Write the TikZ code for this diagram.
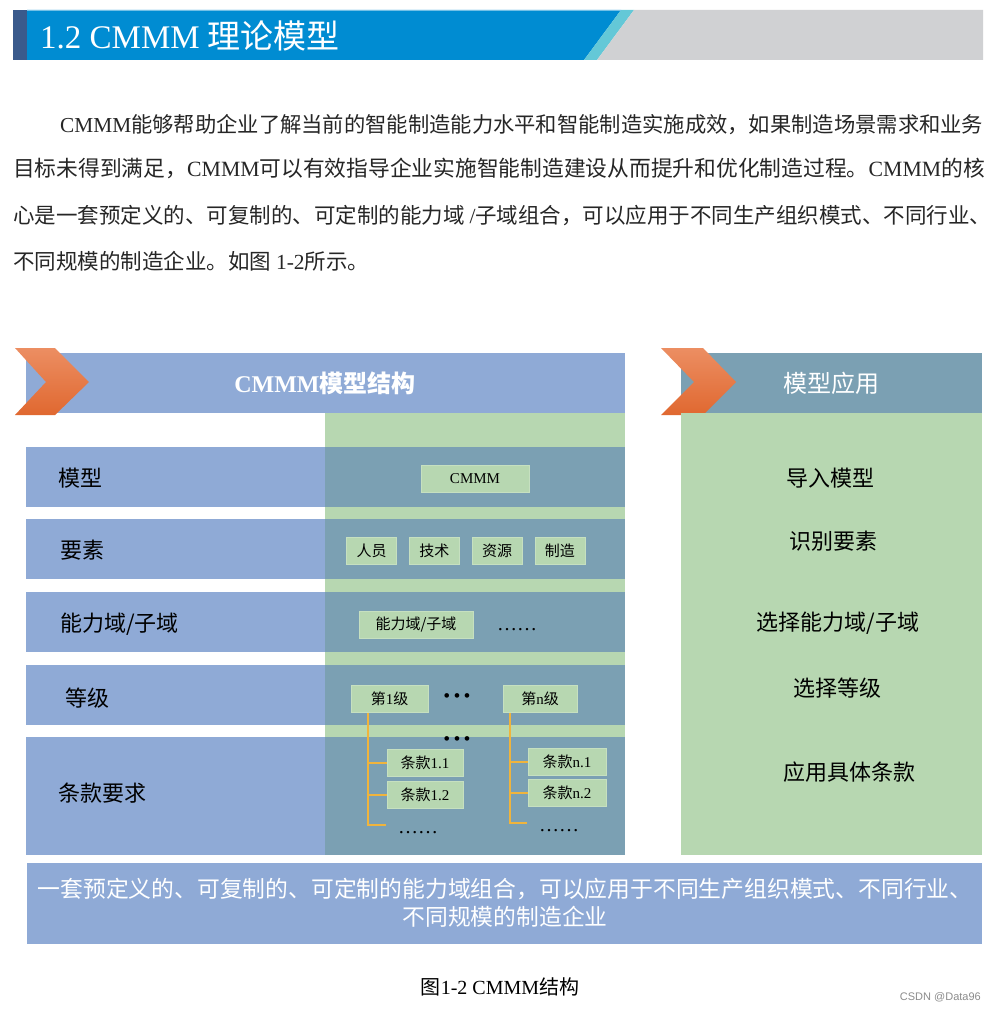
\documentclass[tikz,border=0pt]{standalone}
\usepackage{fontspec}
\setmainfont{Noto Sans CJK SC}
\newfontfamily\serifen{Liberation Serif}
\newfontfamily\wmfont{Liberation Sans}
\usetikzlibrary{positioning}
\definecolor{navy}{RGB}{58,90,140}
\definecolor{hblue}{RGB}{0,140,210}
\definecolor{hcyan}{RGB}{100,200,215}
\definecolor{hgray}{RGB}{208,209,211}
\definecolor{bandblue}{RGB}{143,170,214}
\definecolor{steel}{RGB}{123,160,179}
\definecolor{lightgreen}{RGB}{183,215,177}
\definecolor{boxedge}{RGB}{198,224,192}
\definecolor{treeline}{RGB}{240,180,60}
\definecolor{chevtop}{RGB}{236,142,98}
\definecolor{chevbot}{RGB}{224,104,48}

\begin{document}
\begin{tikzpicture}[x=1pt,y=-1pt,
  para/.style={anchor=base west,inner sep=0pt,text=black!85},
  lbl/.style={anchor=west,inner sep=0pt,font=\fontsize{22}{26}\selectfont},
  app/.style={inner sep=0pt,font=\fontsize{22}{26}\selectfont},
  item/.style={fill=lightgreen,draw=boxedge,line width=0.8pt,minimum height=27pt,
    minimum width=50pt,inner sep=0pt,font=\fontsize{15}{18}\selectfont},
  more/.style={inner sep=0pt,font=\serifen\fontsize{20}{22}\selectfont},
  bullets/.style={inner sep=0pt,font=\serifen\bfseries\fontsize{17}{20}\selectfont},
  tree/.style={draw=treeline,line width=2pt},
  head/.style={text=white,inner sep=0pt,font=\fontsize{24}{28}\selectfont}]
  \useasboundingbox[fill=white] (0,0) rectangle (995,1011);

  % title bar
  \fill[navy] (13,10) rectangle (27,60);
  \fill[hblue] (27,10) -- (621,10) -- (584,60) -- (27,60) -- cycle;
  \fill[hcyan] (621,10) -- (634,10) -- (597,60) -- (584,60) -- cycle;
  \fill[hgray] (634,10) -- (983,10) -- (983,60) -- (597,60) -- cycle;
  \draw[hblue!55!white,line width=1.2pt] (27,10.6) -- (620.5,10.6);
  \node[anchor=west,text=white,inner sep=0pt,font=\fontsize{33}{37}\selectfont] (title) at (40,36)
    {{\serifen 1.2 CMMM }理论模型};

  \node[para,font=\fontsize{21.3}{26}\selectfont] (p1) at (60,133) {{\serifen CMMM}能够帮助企业了解当前的智能制造能力水平和智能制造实施成效，如果制造场景需求和业务};
  \node[para,font=\fontsize{21.75}{26}\selectfont] (p2) at (13,177) {目标未得到满足，{\serifen CMMM}可以有效指导企业实施智能制造建设从而提升和优化制造过程。{\serifen CMMM}的核};
  \node[para,font=\fontsize{21.5}{26}\selectfont] (p3) at (13,223) {心是一套预定义的、可复制的、可定制的能力域 {\serifen /}子域组合，可以应用于不同生产组织模式、不同行业、};
  \node[para,font=\fontsize{21.5}{26}\selectfont] (p4) at (13,269) {不同规模的制造企业。如图 {\serifen 1-2}所示。};

  % model structure
  \fill[bandblue] (26,353) rectangle (625,413);
  \shade[top color=chevtop,bottom color=chevbot] (15,348) -- (55,348) -- (89,382) -- (55,415) -- (15,415) -- (46,382) -- cycle;
  \node[head,font=\fontsize{24}{28}\selectfont\bfseries] (lhead) at (325,383) {{\serifen CMMM}模型结构};

  \fill[lightgreen] (325,413) rectangle (625,855);
  \foreach \top/\bot in {447/507,519/579,592/652,665/725,737/855}{
    \fill[bandblue] (26,\top) rectangle (325,\bot);
    \fill[steel] (325,\top) rectangle (625,\bot);
  }

  \node[lbl] (lmodel) at (58,478) {模型};
  \node[lbl] (lelem) at (60,550) {要素};
  \node[lbl] (ldomain) at (60,624) {能力域/子域};
  \node[lbl] (llevel) at (65,698) {等级};
  \node[lbl] (lclause) at (58,793) {条款要求};

  \node[item,minimum width=108pt] (cmmm) at (475,478.5) {\serifen CMMM};
  \node[item] (ry) at (371.5,551) {人员};
  \node[item,right=12pt of ry] (js) {技术};
  \node[item,right=12pt of js] (zy) {资源};
  \node[item,right=12pt of zy] (zz) {制造};
  \node[item,minimum width=114pt] (nly) at (416,624.5) {能力域/子域};
  \node[more] (nlymore) at (517,630) {……};

  \node[item,minimum width=77pt] (g1) at (389.5,699) {第{\serifen 1}级};
  \node[bullets] (gmid) at (457,698) {• • •};
  \node[item,minimum width=74pt] (gn) at (540,699) {第{\serifen n}级};
  \node[bullets] (cmid) at (457,741) {• • •};

  \node[item,minimum width=76pt] (c11) at (425,763) {条款{\serifen 1.1}};
  \node[item,minimum width=76pt] (c12) at (425,795) {条款{\serifen 1.2}};
  \node[more] (c1more) at (418,833) {……};
  \node[item,minimum width=78pt] (cn1) at (567,762) {条款{\serifen n.1}};
  \node[item,minimum width=78pt] (cn2) at (567,793) {条款{\serifen n.2}};
  \node[more] (cnmore) at (559,831) {……};

  \coordinate (t1) at ([xshift=17.4pt]g1.south west);
  \coordinate (e1) at (386,825);
  \draw[tree] (t1) |- (c11.west);
  \draw[tree] (t1) |- (c12.west);
  \draw[tree] (t1) |- (e1);
  \coordinate (tn) at ([xshift=7.4pt]gn.south west);
  \coordinate (en) at (527,823);
  \draw[tree] (tn) |- (cn1.west);
  \draw[tree] (tn) |- (cn2.west);
  \draw[tree] (tn) |- (en);

  % model application
  \fill[steel] (681,353) rectangle (982,413);
  \shade[top color=chevtop,bottom color=chevbot] (661,348) -- (703,348) -- (736,382) -- (703,415) -- (661,415) -- (694,382) -- cycle;
  \node[head] (rhead) at (831,383) {模型应用};
  \fill[lightgreen] (681,413) rectangle (982,855);
  \node[app] (a1) at (830,478) {导入模型};
  \node[app] (a2) at (833,541) {识别要素};
  \node[app] (a3) at (838,623) {选择能力域/子域};
  \node[app] (a4) at (837,688) {选择等级};
  \node[app] (a5) at (849,772) {应用具体条款};

  \fill[bandblue] (27,863) rectangle (982,944);
  \node[text=white,align=center,inner sep=0pt,font=\fontsize{22.8}{28}\selectfont] (summary) at (505,903)
    {一套预定义的、可复制的、可定制的能力域组合，可以应用于不同生产组织模式、不同行业、\\不同规模的制造企业};

  \node[inner sep=0pt,font=\fontsize{20}{24}\selectfont] (caption) at (500,987) {图{\serifen 1-2 CMMM}结构};
  \node[anchor=east,inner sep=0pt,text=black!45,font=\wmfont\fontsize{11}{13}\selectfont] (wm) at (981,997) {CSDN @Data96};
\end{tikzpicture}
\end{document}
